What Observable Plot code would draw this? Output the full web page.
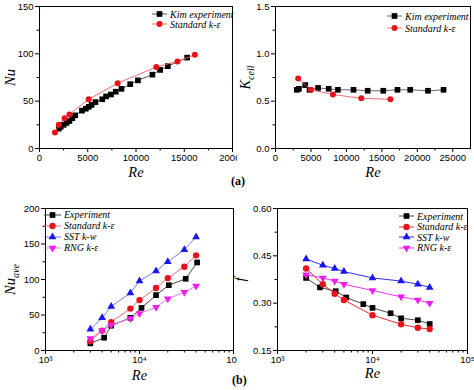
<!DOCTYPE html>
<html>
<head>
<meta charset="utf-8">
<script src="https://cdn.jsdelivr.net/npm/d3@7"></script>
<script src="https://cdn.jsdelivr.net/npm/@observablehq/plot@0.6"></script>
<style>
  body { margin: 0; background: #fff; }
  #fig { position: relative; width: 474px; height: 390px; overflow: hidden; background: #fff; }
  .panel { position: absolute; background: #fff; }
  .panel svg { overflow: visible; }
  .leg { position: absolute; font-family: "Liberation Serif", "Times New Roman", serif; font-style: italic; font-size: 10px; color: #000; }
  .leg .row { display: flex; align-items: center; white-space: nowrap; }
  .leg svg { overflow: visible; margin-right: 3px; }
  .tag { position: absolute; font-family: "Liberation Serif", "Times New Roman", serif; font-weight: bold; font-size: 12px; }
</style>
</head>
<body>
<div id="fig"></div>
<script>
// ---------- data: panel (a) left, Nu vs Re ----------
const nuReKim = [2000, 2200, 2500, 2800, 3100, 3400, 3700, 4400, 4800, 5100, 5400, 5800, 6500, 6900, 7400, 7900, 8500, 9400, 10200, 11700, 12500, 13300, 15300];
const nuKim   = [21, 23, 25, 27, 29, 32, 35, 40, 42, 44, 46, 49, 52, 55, 57, 60, 63, 68, 72, 78, 83, 87, 96];
const nuReStd = [1600, 2000, 2600, 3100, 5100, 8100, 12100, 14300, 16100];
const nuStd   = [17, 25, 32, 36, 52, 69, 86, 92, 99];

// ---------- data: panel (a) right, K_cell vs Re ----------
const kReKim = [3000, 3300, 4200, 4800, 6000, 7500, 8800, 11000, 13000, 15200, 17200, 19000, 21500, 23700];
const kKim   = [0.62, 0.63, 0.67, 0.62, 0.64, 0.63, 0.62, 0.62, 0.61, 0.61, 0.62, 0.62, 0.61, 0.62];
const kReStd = [3200, 5000, 8100, 12100, 16200];
const kStd   = [0.74, 0.62, 0.57, 0.53, 0.52];

// ---------- data: panel (b) left, Nu_ave vs Re ----------
const nbReExp = [3000, 4200, 5000, 8000, 10500, 15000, 20500, 31000, 41000];
const nbExp   = [10, 18, 35, 46, 60, 78, 92, 101, 124];
const nbReSim = [3000, 4000, 5000, 8000, 10000, 15000, 20000, 30000, 40000];
const nbStd   = [13, 28, 40, 59, 71, 88, 102, 118, 134];
const nbSST   = [30, 46, 62, 81, 98, 112, 125, 142, 160];
const nbRNG   = [17, 28, 36, 45, 52, 61, 73, 82, 91];

// ---------- data: panel (b) right, f vs Re ----------
const fReExp = [2000, 2800, 4100, 5300, 8000, 10000, 15500, 20000, 30000, 40000];
const fExp   = [0.380, 0.350, 0.338, 0.318, 0.297, 0.285, 0.268, 0.252, 0.246, 0.234];
const fReSim = [2000, 3000, 4000, 5000, 10000, 20000, 30000, 40000];
const fStd   = [0.410, 0.360, 0.330, 0.310, 0.262, 0.233, 0.222, 0.218];
const fSST   = [0.440, 0.420, 0.410, 0.400, 0.380, 0.370, 0.360, 0.350];
const fRNG   = [0.390, 0.380, 0.370, 0.360, 0.340, 0.320, 0.310, 0.300];

// ---------- tick labels ----------
const ticksA1x = [0, 5000, 10000, 15000, 20000];
const ticksA1y = [0, 50, 100, 150];
const ticksA2x = [0, 5000, 10000, 15000, 20000, 25000];
const ticksA2y = [0, 0.5, 1.0, 1.5];
const ticksLog = [1e3, 1e4, 1e5];
const ticksB1y = [0, 50, 100, 150, 200];
const ticksB2y = [0.15, 0.30, 0.45, 0.60];
const supDigits = {"3": "\u00b3", "4": "\u2074", "5": "\u2075"};
const logFmt = d => "10" + supDigits[String(Math.round(Math.log10(d)))];
const logMinor = [2,3,4,5,6,7,8,9].flatMap(m => [m * 1e3, m * 1e4]);

const BLACK = "#000", RED = "#e8121a", BLUE = "#1616ee", MAG = "#f01cf0";
const fig = document.getElementById("fig");

function makePanel(cfg) {
  const div = document.createElement("div");
  div.className = "panel";
  Object.assign(div.style, {left: cfg.left + "px", top: cfg.top + "px", width: cfg.width + "px", height: cfg.height + "px"});
  const marks = [
    Plot.axisX(cfg.xMinor, {tickSize: 2.5, tickFormat: () => "", label: null}),
    Plot.axisY(cfg.yMinor, {tickSize: 2.5, tickFormat: () => "", label: null}),
    Plot.axisX(cfg.xTicks, {tickSize: 4, tickPadding: 2, tickFormat: cfg.xFormat, label: "Re", labelAnchor: "center", labelOffset: cfg.xLabelOffset, labelArrow: "none"}),
    Plot.axisY(cfg.yTicks, {tickSize: 4, tickPadding: 2, tickFormat: cfg.yFormat, label: cfg.yLabel, labelAnchor: "center", labelOffset: cfg.yLabelOffset, labelArrow: "none"}),
    Plot.frame({stroke: "#000", strokeWidth: 1})
  ];
  for (const s of cfg.series) {
    const data = s.x.map((x, i) => ({x, y: s.y[i]}));
    marks.push(Plot.line(data, {x: "x", y: "y", stroke: s.line, strokeWidth: 0.9}));
    marks.push(Plot.dot(data, {x: "x", y: "y", fill: s.color, stroke: "none", symbol: s.symbol, r: s.r, rotate: s.rotate || 0}));
  }
  const svg = Plot.plot({
    width: cfg.width, height: cfg.height,
    marginLeft: cfg.m[3], marginTop: cfg.m[0], marginRight: cfg.m[1], marginBottom: cfg.m[2],
    x: {type: cfg.xType, domain: cfg.xDomain},
    y: {type: "linear", domain: cfg.yDomain},
    style: {fontFamily: '"Liberation Sans", Arial, sans-serif', fontSize: "9.5px", background: "transparent", overflow: "visible", color: "#000"},
    marks
  });
  div.appendChild(svg);
  fig.appendChild(div);
  const sv = d3.select(svg);
  sv.selectAll('g[aria-label="x-axis label"] text, g[aria-label="y-axis label"] text')
    .attr("font-family", '"Liberation Serif", "Times New Roman", serif')
    .attr("font-style", "italic").attr("font-size", 14.5).attr("fill", "#000");
  if (cfg.ySub) {
    const t = sv.select('g[aria-label="y-axis label"] text');
    t.append("tspan").attr("font-size", 10).attr("dy", 4).text(cfg.ySub);
  }
  // legend
  const leg = document.createElement("div");
  leg.className = "leg";
  Object.assign(leg.style, {left: (cfg.left + cfg.legend.x) + "px", top: (cfg.top + cfg.legend.y) + "px"});
  const symMap = {square: d3.symbolSquare, circle: d3.symbolCircle, triangle: d3.symbolTriangle};
  for (const s of cfg.series) {
    const row = document.createElement("div");
    row.className = "row";
    row.style.height = cfg.legend.rowH + "px";
    const w = cfg.legend.w;
    const ns = "http://www.w3.org/2000/svg";
    const ls = document.createElementNS(ns, "svg");
    ls.setAttribute("width", w); ls.setAttribute("height", 8);
    const g = d3.select(ls);
    g.append("line").attr("x1", 0).attr("x2", w).attr("y1", 4).attr("y2", 4).attr("stroke", s.line).attr("stroke-width", 0.9);
    g.append("path").attr("d", d3.symbol(symMap[s.symbol], Math.PI * s.r * s.r)())
      .attr("transform", `translate(${w / 2},4) rotate(${s.rotate || 0})`).attr("fill", s.color);
    row.appendChild(ls);
    const sp = document.createElement("span");
    sp.textContent = s.name;
    row.appendChild(sp);
    leg.appendChild(row);
  }
  fig.appendChild(leg);
}

makePanel({
  left: 0, top: 0, width: 237, height: 190, m: [6, 5, 42, 39],
  xType: "linear", xDomain: [0, 20000], yDomain: [0, 150],
  xTicks: ticksA1x, yTicks: ticksA1y, xMinor: [2500, 7500, 12500, 17500], yMinor: [25, 75, 125],
  xFormat: d => String(d), yFormat: d => String(d),
  yLabel: "Nu", xLabelOffset: 28, yLabelOffset: 35,
  legend: {x: 152, y: 9, rowH: 10, w: 15},
  series: [
    {name: "Kim experiment", x: nuReKim, y: nuKim, color: BLACK, line: "#444", symbol: "square", r: 3.2},
    {name: "Standard k-\u03b5", x: nuReStd, y: nuStd, color: RED, line: "#f25a5f", symbol: "circle", r: 3}
  ]
});

makePanel({
  left: 237, top: 0, width: 237, height: 190, m: [6, 4, 42, 38],
  xType: "linear", xDomain: [0, 27500], yDomain: [0, 1.5],
  xTicks: ticksA2x, yTicks: ticksA2y, xMinor: [2500, 7500, 12500, 17500, 22500], yMinor: [0.25, 0.75, 1.25],
  xFormat: d => String(d), yFormat: d3.format(".1f"),
  yLabel: "K", ySub: "cell", xLabelOffset: 28, yLabelOffset: 36,
  legend: {x: 150, y: 10, rowH: 12, w: 15},
  series: [
    {name: "Kim experiment", x: kReKim, y: kKim, color: BLACK, line: "#555", symbol: "square", r: 3.2},
    {name: "Standard k-\u03b5", x: kReStd, y: kStd, color: RED, line: "#f25a5f", symbol: "circle", r: 3}
  ]
});

makePanel({
  left: 0, top: 192, width: 237, height: 198, m: [16, 4, 40, 45],
  xType: "log", xDomain: [1e3, 1e5], yDomain: [0, 200],
  xTicks: ticksLog, yTicks: ticksB1y, xMinor: logMinor, yMinor: [25, 75, 125, 175],
  xFormat: logFmt, yFormat: d => String(d),
  yLabel: "Nu", ySub: "ave", xLabelOffset: 29, yLabelOffset: 41,
  legend: {x: 44, y: 17, rowH: 11, w: 17},
  series: [
    {name: "Experiment", x: nbReExp, y: nbExp, color: BLACK, line: "#333", symbol: "square", r: 3.2},
    {name: "Standard k-\u03b5", x: nbReSim, y: nbStd, color: RED, line: "#f25a5f", symbol: "circle", r: 3.2},
    {name: "SST k-w", x: nbReSim, y: nbSST, color: BLUE, line: "#6b6bf0", symbol: "triangle", r: 2.9},
    {name: "RNG k-\u03b5", x: nbReSim, y: nbRNG, color: MAG, line: "#f06af0", symbol: "triangle", r: 2.9, rotate: 180}
  ]
});

makePanel({
  left: 237, top: 192, width: 237, height: 198, m: [16, 7, 40, 40],
  xType: "log", xDomain: [1e3, 1e5], yDomain: [0.15, 0.60],
  xTicks: ticksLog, yTicks: ticksB2y, xMinor: logMinor, yMinor: [0.225, 0.375, 0.525],
  xFormat: logFmt, yFormat: d3.format(".2f"),
  yLabel: "f", xLabelOffset: 27, yLabelOffset: 43,
  legend: {x: 162, y: 19, rowH: 10.5, w: 15},
  series: [
    {name: "Experiment", x: fReExp, y: fExp, color: BLACK, line: "#333", symbol: "square", r: 3.2},
    {name: "Standard k-\u03b5", x: fReSim, y: fStd, color: RED, line: RED, symbol: "circle", r: 3.2},
    {name: "SST k-w", x: fReSim, y: fSST, color: BLUE, line: BLUE, symbol: "triangle", r: 2.9},
    {name: "RNG k-\u03b5", x: fReSim, y: fRNG, color: MAG, line: MAG, symbol: "triangle", r: 2.9, rotate: 180}
  ]
});

for (const [txt, l, t] of [["(a)", 231, 174], ["(b)", 232, 373]]) {
  const d = document.createElement("div");
  d.className = "tag"; d.textContent = txt;
  d.style.left = l + "px"; d.style.top = t + "px";
  fig.appendChild(d);
}
</script>
</body>
</html>
